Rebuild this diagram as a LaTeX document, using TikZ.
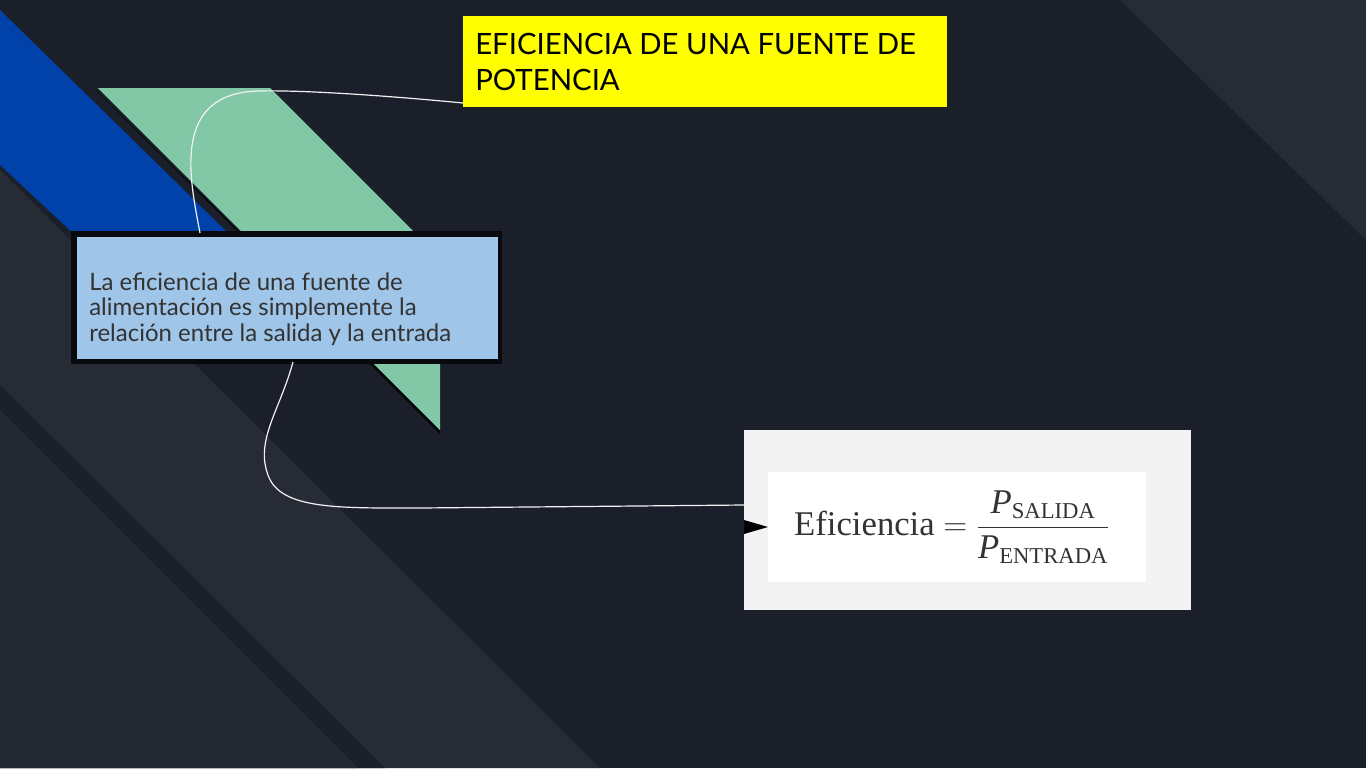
\documentclass[tikz,border=0pt]{standalone}
\usepackage{fontspec}
\setmainfont{Lato}
\newfontfamily\serifface{Liberation Serif}
\usetikzlibrary{arrows.meta}
\definecolor{bgdark}{HTML}{1B1F2A}
\definecolor{bgmid}{HTML}{262B35}
\definecolor{bluepar}{HTML}{0042AA}
\definecolor{greenpar}{HTML}{82C8A6}
\definecolor{boxblue}{HTML}{9FC5E8}
\definecolor{ylw}{HTML}{FFFF00}
\definecolor{lgray}{HTML}{F3F3F3}
\tikzset{conn/.style={draw=white!90!gray,line width=0.9pt},
 pxbox/.style 2 args={minimum width={#1*0.75pt},minimum height={#2*0.75pt},anchor=north west,inner sep=0}}
\begin{document}
\begin{tikzpicture}[x=0.75pt,y=-0.75pt]
\useasboundingbox (0,0) rectangle (1366,768);
\fill[bgdark] (0,0) rectangle (1366,768);
\fill[bgmid] (0,170) -- (600,768) -- (0,768) -- cycle;
\fill[bgdark] (0,385) -- (385,768) -- (0,768) -- cycle;
\fill[bgmid!70!bgdark] (0,410) -- (358,768) -- (0,768) -- cycle;
\fill[bgmid] (1120,0) -- (1366,0) -- (1366,240) -- cycle;
\fill[bluepar] (0,10) -- (230,235) -- (75,235) -- (0,165) -- cycle;
\fill[black!80!bgdark] (94,88) -- (240,234) -- (440,434) -- (440,430) -- cycle;
\fill[greenpar] (98,88) -- (270,88) -- (440,258) -- (440,430) -- cycle;
\fill[black!70!bgdark] (71,231) rectangle (502,364);
\node[fill=boxblue,pxbox={421}{122}] (desc) at (77,237) {};
\node[anchor=west,align=left,font=\fontsize{18}{19}\selectfont,text=black!80,inner sep=0] at (89,309) {La eficiencia de una fuente de\\alimentación es simplemente la\\relación entre la salida y la entrada};
\node[fill=ylw,pxbox={484}{91}] (title) at (463,16) {};
\node[anchor=west,align=left,font=\fontsize{22}{27}\selectfont,inner sep=0] at (475,62) {EFICIENCIA DE UNA FUENTE DE\\POTENCIA};
\node[fill=lgray,pxbox={447}{180}] (formula) at (744,430) {};
\node[fill=white,pxbox={378}{110}] at (768,472) {};
\node[font=\serifface\fontsize{26}{28}\selectfont,text=black!80] at (952,527) {Eficiencia $=\displaystyle\frac{\mbox{\itshape P}_{\mbox{\fontsize{17}{17}\selectfont SALIDA}}}{\mbox{\itshape P}_{\mbox{\fontsize{17}{17}\selectfont ENTRADA}}}$};
\draw[conn] (title.west |- 0,103) .. controls (380,95) and (300,90) .. (260,91) .. controls (170,92) and (190,180) .. (200,233);
\draw[conn] (293,362) .. controls (280,410) and (255,440) .. (268,475) .. controls (280,510) and (340,508) .. (420,508) -- (744,505);
\fill[black] (744,520) -- (768,527) -- (744,534) -- cycle;
\end{tikzpicture}
\end{document}
